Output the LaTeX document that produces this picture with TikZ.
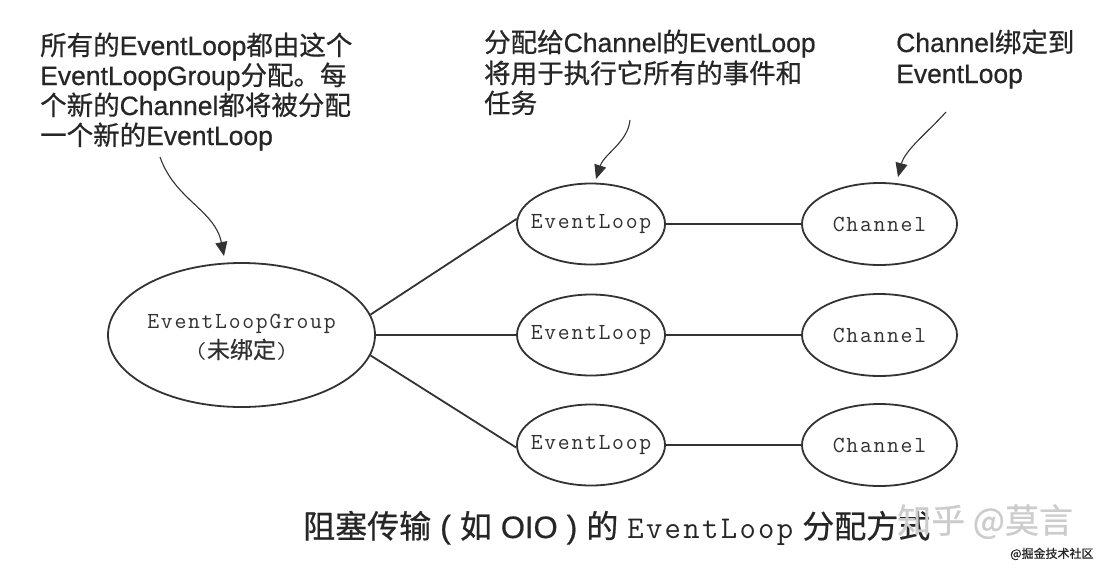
\documentclass[tikz,border=0pt]{standalone}
\usepackage{fontspec}
\setmainfont{Liberation Sans}[FakeBold=0.6]
\newfontfamily\mono{Latin Modern Mono}[LetterSpace=7.5]
\newfontfamily\cjk{Noto Sans CJK SC}[FakeBold=0.6]
\usetikzlibrary{shapes.geometric,arrows.meta}
\definecolor{ink}{HTML}{262626}
\definecolor{monoc}{HTML}{303030}
\definecolor{linec}{HTML}{333333}
\tikzset{
  note/.style={anchor=base west, inner sep=0pt, text=ink, font=\fontsize{26.5}{30}\selectfont},
  oval/.style={ellipse, draw=linec, line width=1.8pt, inner sep=0pt},
  ovaltxt/.style={inner sep=0pt, text=monoc, align=center, font=\mono\fontsize{23}{30}\selectfont},
  link/.style={draw=linec, line width=1.8pt},
  pointer/.style={draw=linec, line width=1.1pt, -{Triangle[length=14pt,width=12pt]}},
}
\begin{document}
\begin{tikzpicture}[x=1pt,y=-1pt]
\fill[white] (0,0) rectangle (1100,568);
\useasboundingbox (0,0) rectangle (1100,568);

% annotations
\node[note] (la) at (40,55) {{\cjk 所有的}EventLoop{\cjk 都由这个}};
\node[note] (lb) at (40,85) {EventLoopGroup{\cjk 分配。每}};
\node[note] (lc) at (40,115) {{\cjk 个新的}Channel{\cjk 都将被分配}};
\node[note] (ld) at (40,145) {{\cjk 一个新的}EventLoop};

\node[note] (ma) at (484,52) {{\cjk 分配给}Channel{\cjk 的}EventLoop};
\node[note] (mb) at (484,83) {{\cjk 将用于执行它所有的事件和}};
\node[note] (mc) at (484,113) {{\cjk 任务}};

\node[note] (ra) at (896,52) {Channel{\cjk 绑定到}};
\node[note] (rb) at (896,83) {EventLoop};

% ellipses
\node[oval, minimum width=267pt, minimum height=144pt] (g) at (241.5,335) {};
\node[ovaltxt] (gt) at (241.5,337) {EventLoopGroup\\({\cjk 未绑定})};

\foreach \i/\y in {1/224,2/335,3/445}{
  \node[oval, minimum width=148pt, minimum height=81pt] (e\i) at (591,\y) {};
  \node[ovaltxt] (et\i) at (591,\y) {EventLoop};
  \node[oval, minimum width=155pt, minimum height=82pt] (c\i) at (879.5,\y) {};
  \node[ovaltxt] (ct\i) at (879.5,\y) {Channel};
  \draw[link] (e\i.east) -- (c\i.west);
}
\draw[link] (g.9) -- (e1.176);
\draw[link] (g.east) -- (e2.west);
\draw[link] (g.-9) -- (e3.182);

% pointers
\coordinate (p1s) at (160,157);
\coordinate (p1e) at (224,256);
\coordinate (p2s) at (630,120);
\coordinate (p2e) at (596,179);
\coordinate (p3s) at (946,112);
\coordinate (p3e) at (898,177);
\draw[pointer] (p1s) .. controls (175,200) and (215,210) .. (p1e);
\draw[pointer] (p2s) .. controls (628,142) and (604,154) .. (p2e);
\draw[pointer] (p3s) .. controls (928,132) and (905,150) .. (p3e);

% caption
\node[anchor=base west, inner sep=0pt, text=ink, font=\fontsize{32}{36}\selectfont] (cap) at (303,538)
  {{\cjk 阻塞传输}\hspace{9pt}(\hspace{9pt}{\cjk 如}\hspace{9pt}{\fontsize{31}{36}\selectfont OIO}\hspace{9pt})\hspace{9pt}{\cjk 的}\hspace{9pt}{\mono\fontsize{31.7}{36}\selectfont EventLoop}\hspace{9pt}{\cjk 分配方式}};

% watermarks
\node[anchor=base west, inner sep=0pt, text=gray!40, font=\cjk\fontsize{34}{36}\selectfont] (wm) at (897,533) {知乎 @莫言};
\node[anchor=base west, inner sep=0pt, text=ink, font=\cjk\fontsize{12}{14}\selectfont] (wm2) at (1010,558) {@掘金技术社区};
\end{tikzpicture}
\end{document}
